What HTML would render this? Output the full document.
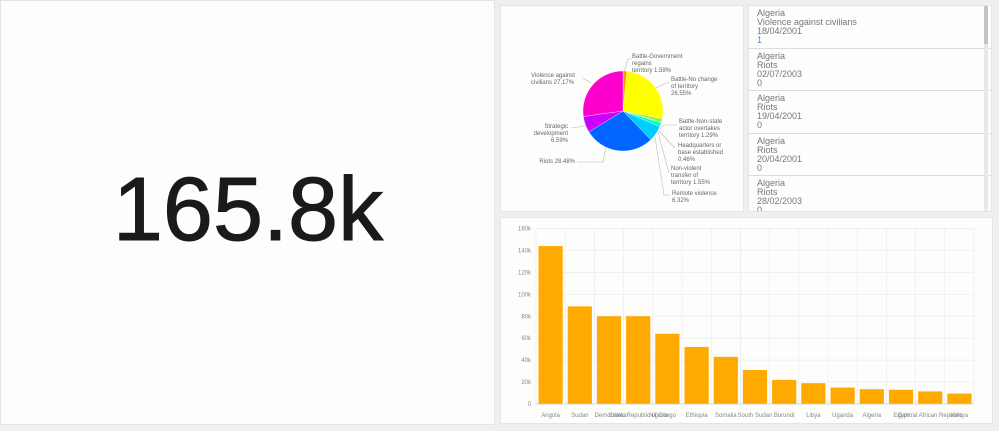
<!DOCTYPE html>
<html><head><meta charset="utf-8"><style>
body{margin:0;width:999px;height:431px;background:#efefef;overflow:hidden;font-family:"Liberation Sans",sans-serif;position:relative}
.p{position:absolute;background:#fdfdfb;border:1px solid #e4e4e4;box-sizing:border-box}
.big{position:absolute;left:0;width:494px;text-align:center;font-size:90px;color:#1a1a1a;line-height:90px;-webkit-text-stroke:1px #1a1a1a}
.item{border-bottom:1px solid #ddd;height:42.6px;padding:3px 0 0 8px;font-size:9px;line-height:9px;color:#777;box-sizing:border-box}
svg text{font-family:"Liberation Sans",sans-serif}
</style></head><body>
<div class="p" style="left:0;top:0;width:495px;height:425px"><div class="big" style="top:164px">165.8k</div></div>
<div class="p" style="left:500px;top:5px;width:244px;height:207px"><svg id="pie" width="244" height="207"></svg></div>
<div class="p" style="left:748px;top:5px;width:244px;height:207px;overflow:hidden">
<div class="item">Algeria<br>Violence against civilians<br>18/04/2001<br><span style="color:#4a90d9">1</span></div>
<div class="item">Algeria<br>Riots<br>02/07/2003<br>0</div>
<div class="item">Algeria<br>Riots<br>19/04/2001<br>0</div>
<div class="item">Algeria<br>Riots<br>20/04/2001<br>0</div>
<div class="item">Algeria<br>Riots<br>28/02/2003<br>0</div>
<div style="position:absolute;right:3px;top:0;width:4px;height:207px;background:#e8e8e8"><div style="height:38px;background:#c4c4c4"></div></div>
</div>
<div class="p" style="left:500px;top:217px;width:493px;height:207px"><svg id="bar" width="493" height="207"></svg></div>
<script>
var ns='http://www.w3.org/2000/svg';
function el(s,t,a,txt){var e=document.createElementNS(ns,t);for(var k in a)e.setAttribute(k,a[k]);if(txt!=null)e.textContent=txt;s.appendChild(e);return e;}
var pie=document.getElementById('pie');
var cx=122,cy=105,r=40;
var d=[[1.59,'#ff9900'],[26.55,'#ffff00'],[1.29,'#99ee33'],[0.46,'#33ff99'],[1.55,'#00ffcc'],[6.32,'#00ccff'],[28.48,'#0066ff'],[6.59,'#cc00ff'],[27.17,'#ff00cc']];
var a0=0;d.forEach(function(s){var a1=a0+s[0]/100*2*Math.PI;
var x0=cx+r*Math.sin(a0),y0=cy-r*Math.cos(a0),x1=cx+r*Math.sin(a1),y1=cy-r*Math.cos(a1);
el(pie,'path',{d:'M'+cx+','+cy+'L'+x0+','+y0+'A'+r+','+r+' 0 '+((a1-a0)>Math.PI?1:0)+' 1 '+x1+','+y1+'Z',fill:s[1],stroke:'#fff','stroke-width':0.3});a0=a1;});
var labs=[[131,52,'start',['Battle-Government','regains','territory 1.59%']],[170,75,'start',['Battle-No change','of territory','26.55%']],[178,117,'start',['Battle-Non-state','actor overtakes','territory 1.29%']],[177,141,'start',['Headquarters or','base established','0.46%']],[170,164,'start',['Non-violent','transfer of','territory 1.55%']],[171,189,'start',['Remote violence','6.32%']],[30,71,'start',['Violence against','civilians 27.17%']],[67,122,'end',['Strategic','development','6.59%']],[74,157,'end',['Riots 28.48%']]];
labs.forEach(function(l){l[3].forEach(function(t,i){el(pie,'text',{x:l[0],y:l[1]+i*7,'font-size':6,fill:'#666','text-anchor':l[2]},t);});});
var lines=['M123,66 L127,53 L131,53','M155,82 L168,76','M159,123 L163,119 L176,119','M158,125 L174,142','M157,126 L168,167','M154,131 L163,189 L169,189','M90,77 L82,72','M85,120 L70,122','M105,142 L102,156 L76,156'];
lines.forEach(function(p){el(pie,'path',{d:p,fill:'none',stroke:'#bbb','stroke-width':0.6});});
var bar=document.getElementById('bar');
var x0=35,y0=186,yt=10.5,w=29.2,n=15;
for(var i=0;i<=8;i++){var y=y0-(y0-yt)*i/8;el(bar,'line',{x1:x0,x2:x0+w*n,y1:y,y2:y,stroke:'#ececec','stroke-width':0.7});el(bar,'text',{x:x0-5,y:y+2,'font-size':6,fill:'#888','text-anchor':'end'},i==0?'0':(i*20)+'k');}
for(var i=0;i<=n;i++){el(bar,'line',{x1:x0+w*i,x2:x0+w*i,y1:yt,y2:y0,stroke:'#ececec','stroke-width':0.7});}
var v=[144,89,80,80,64,52,43,31,22,19,15,13.5,13,11.5,9.5];
v.forEach(function(val,i){var h=(y0-yt)*val/160;el(bar,'rect',{x:x0+w*i+2.5,y:y0-h,width:w-5,height:h,fill:'#ffaa00'});});
var lab=[[0,'Angola'],[1,'Sudan'],[2.9,'Democratic Republic of Congo'],[3.7,'Nigeria'],[2.3,'Eritrea'],[5,'Ethiopia'],[6,'Somalia'],[7,'South Sudan'],[8,'Burundi'],[9,'Libya'],[10,'Uganda'],[11,'Algeria'],[12,'Egypt'],[13,'Central African Republic'],[14,'Kenya']];
lab.forEach(function(t){el(bar,'text',{x:x0+w*t[0]+w/2,y:y0+13,'font-size':6,fill:'#888','text-anchor':'middle'},t[1]);});
el(bar,'line',{x1:x0,x2:x0+w*n,y1:y0,y2:y0,stroke:'#ccc','stroke-width':0.8});
</script>
</body></html>
